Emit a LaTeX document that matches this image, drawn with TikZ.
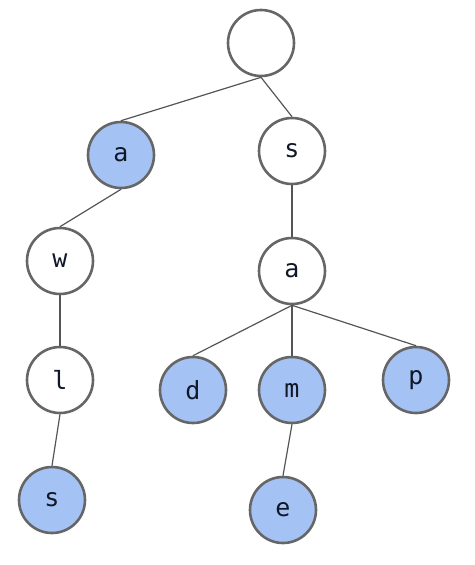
\documentclass[tikz,border=0pt]{standalone}
\usepackage{fontspec}
\setmonofont{DejaVu Sans Mono}
\definecolor{leaf}{HTML}{A4C2F4}
\definecolor{rim}{HTML}{666666}
\definecolor{edgec}{HTML}{555555}
\definecolor{txt}{HTML}{101828}
\begin{document}
\begin{tikzpicture}[x=1pt,y=-1pt,
  trienode/.style={circle,draw=rim,line width=2.6pt,fill=white,minimum size=66pt,inner sep=0pt,
    font=\ttfamily\fontsize{25}{25}\selectfont,text=txt},
  leafnode/.style={trienode,fill=leaf},
  link/.style={draw=edgec,line width=1.2pt}]
\useasboundingbox (0,0) rectangle (474,565);
\node[trienode] (root) at (261,43) {};
\node[leafnode] (a1) at (121,155) {a};
\node[trienode] (s1) at (292,151) {s};
\node[trienode] (w) at (60,261) {w};
\node[trienode] (a2) at (292,271) {a};
\node[trienode] (l) at (60,380) {l};
\node[leafnode] (d) at (193,390) {d};
\node[leafnode] (m) at (292,390) {m};
\node[leafnode] (p) at (416,380) {p};
\node[leafnode] (s2) at (52,500) {s};
\node[leafnode] (e) at (283,510) {e};
\draw[link] (root.south) -- (a1.north);
\draw[link] (root.south) -- (s1.north);
\draw[link] (a1.south) -- (w.north);
\draw[link] (w.south) -- (l.north);
\draw[link] (l.south) -- (s2.north);
\draw[link] (s1.south) -- (a2.north);
\draw[link] (a2.south) -- (d.north);
\draw[link] (a2.south) -- (m.north);
\draw[link] (a2.south) -- (p.north);
\draw[link] (m.south) -- (e.north);
\end{tikzpicture}
\end{document}
